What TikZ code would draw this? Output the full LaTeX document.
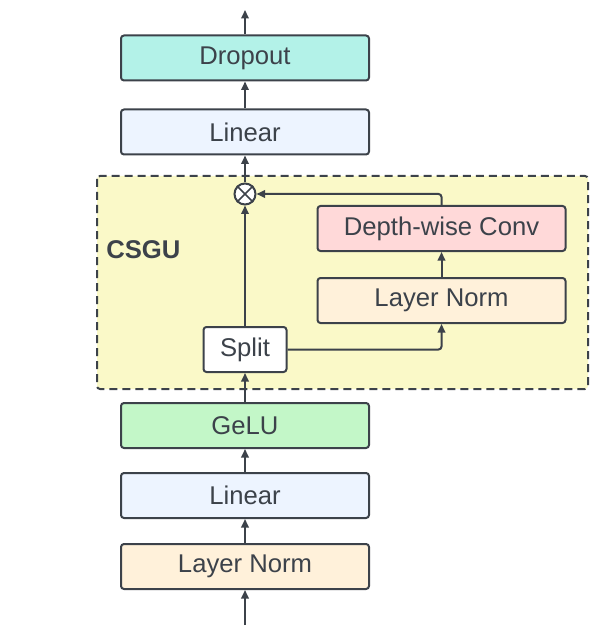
\documentclass[tikz,border=0pt]{standalone}
\usepackage{fontspec}
\setmainfont{Liberation Sans}
\usepackage{xcolor}
\usepackage{tikz}
\usetikzlibrary{positioning,arrows.meta}

\definecolor{inkgray}{HTML}{3C424A}
\definecolor{dropcol}{HTML}{B3F2E8}
\definecolor{lincol}{HTML}{EDF4FF}
\definecolor{gelucol}{HTML}{C3F7C8}
\definecolor{normcol}{HTML}{FFF1DA}
\definecolor{convcol}{HTML}{FFD9D9}
\definecolor{csgucol}{HTML}{FAF9C8}

\begin{document}
\begin{tikzpicture}[font=\fontsize{14.6}{17}\selectfont, text=inkgray]

\tikzstyle{blockbox}=[draw=inkgray,line width=0.04cm,rounded corners=0.06cm,minimum width=4.96cm,minimum height=0.9cm,inner sep=0pt]
\tikzstyle{splitbox}=[blockbox,minimum width=1.66cm,fill=white]
\tikzstyle{mulop}=[draw=inkgray,line width=0.04cm,circle,fill=white,minimum size=0.42cm,inner sep=0pt]
\tikzstyle{flow}=[draw=inkgray,line width=0.04cm,-{Triangle[length=0.17cm,width=0.15cm]}]
\tikzstyle{csguframe}=[draw=inkgray,fill=csgucol,line width=0.04cm,rounded corners=0.06cm,dash pattern=on 0.16cm off 0.1cm]

\useasboundingbox (0,0) rectangle (11.96,-12.68);

%% CSGU block frame
\draw[csguframe] (1.94,-3.52) rectangle (11.76,-7.78);
\node[anchor=west,inner sep=0pt,font=\fontsize{14.6}{17}\selectfont\bfseries] (csgu) at (2.12,-5.0) {CSGU};

%% Main column
\node[blockbox,fill=dropcol] (drop) at (4.9,-1.16) {Dropout};
\node[blockbox,fill=lincol,below=0.54cm of drop] (lintop) {Linear};
\node[mulop,below=0.54cm of lintop] (mul) {};
\draw[inkgray,line width=0.03cm] (mul.north west) -- (mul.south east) (mul.north east) -- (mul.south west);
\node[splitbox] (split) at (4.9,-6.99) {Split};
\node[blockbox,fill=gelucol,below=0.58cm of split] (gelu) {GeLU};
\node[blockbox,fill=lincol,below=0.46cm of gelu] (linbot) {Linear};
\node[blockbox,fill=normcol,below=0.48cm of linbot] (normbot) {Layer Norm};

%% Gate branch
\node[blockbox,fill=convcol] (conv) at (8.83,-4.57) {Depth-wise Conv};
\node[blockbox,fill=normcol,below=0.5cm of conv] (normgate) {Layer Norm};

\coordinate (input) at (4.9,-12.5);
\coordinate (output) at (4.9,-0.2);

%% Connectors
\draw[flow] (input) -- (normbot);
\draw[flow] (normbot) -- (linbot);
\draw[flow] (linbot) -- (gelu);
\draw[flow] (gelu) -- (split);
\draw[flow] (split) -- (mul);
\draw[flow] (mul) -- (lintop);
\draw[flow] (lintop) -- (drop);
\draw[flow] (drop) -- (output);
\draw[flow,rounded corners=0.06cm] (split.east) -| (normgate.south);
\draw[flow] (normgate) -- (conv);
\draw[flow,rounded corners=0.06cm] (conv.north) |- (mul.east);

\end{tikzpicture}
\end{document}
